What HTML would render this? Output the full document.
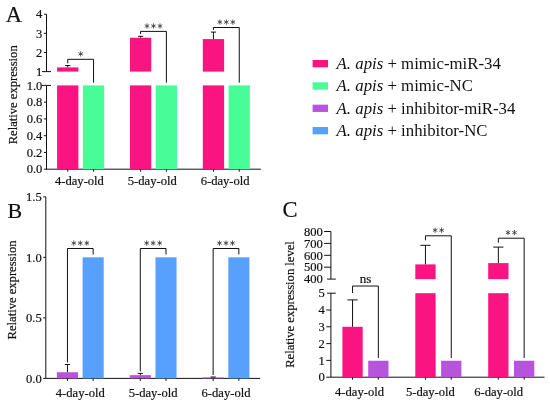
<!DOCTYPE html>
<html><head><meta charset="utf-8"><style>
html,body{margin:0;padding:0;background:#fff;}
svg{display:block;filter:blur(0.45px);}
text{font-family:"Liberation Serif",serif;fill:#111;stroke:#111;stroke-width:0.2px;}
</style></head><body>
<svg width="550" height="405" viewBox="0 0 550 405">
<rect width="550" height="405" fill="#fff"/>
<line x1="46.50" y1="14.20" x2="46.50" y2="71.60" stroke="#111" stroke-width="1.0"/>
<line x1="46.50" y1="85.40" x2="46.50" y2="169.70" stroke="#111" stroke-width="1.0"/>
<line x1="43.90" y1="14.20" x2="46.50" y2="14.20" stroke="#111" stroke-width="1.0"/>
<text x="42.40" y="18.46" font-size="12.6" text-anchor="end" >4</text>
<line x1="43.90" y1="33.33" x2="46.50" y2="33.33" stroke="#111" stroke-width="1.0"/>
<text x="42.40" y="37.59" font-size="12.6" text-anchor="end" >3</text>
<line x1="43.90" y1="52.47" x2="46.50" y2="52.47" stroke="#111" stroke-width="1.0"/>
<text x="42.40" y="56.73" font-size="12.6" text-anchor="end" >2</text>
<line x1="42.00" y1="71.60" x2="51.00" y2="71.60" stroke="#111" stroke-width="1.0"/>
<text x="42.40" y="75.86" font-size="12.6" text-anchor="end" >1</text>
<line x1="42.00" y1="85.40" x2="51.00" y2="85.40" stroke="#111" stroke-width="1.0"/>
<text x="42.40" y="89.66" font-size="12.6" text-anchor="end" >1.0</text>
<line x1="43.90" y1="102.16" x2="46.50" y2="102.16" stroke="#111" stroke-width="1.0"/>
<text x="42.40" y="106.42" font-size="12.6" text-anchor="end" >0.8</text>
<line x1="43.90" y1="118.92" x2="46.50" y2="118.92" stroke="#111" stroke-width="1.0"/>
<text x="42.40" y="123.18" font-size="12.6" text-anchor="end" >0.6</text>
<line x1="43.90" y1="135.68" x2="46.50" y2="135.68" stroke="#111" stroke-width="1.0"/>
<text x="42.40" y="139.94" font-size="12.6" text-anchor="end" >0.4</text>
<line x1="43.90" y1="152.44" x2="46.50" y2="152.44" stroke="#111" stroke-width="1.0"/>
<text x="42.40" y="156.70" font-size="12.6" text-anchor="end" >0.2</text>
<line x1="43.90" y1="169.20" x2="46.50" y2="169.20" stroke="#111" stroke-width="1.0"/>
<text x="42.40" y="173.46" font-size="12.6" text-anchor="end" >0.0</text>
<line x1="46.50" y1="169.20" x2="260.80" y2="169.20" stroke="#111" stroke-width="1.0"/>
<rect x="57.10" y="85.40" width="21.30" height="83.80" fill="#FA1482"/>
<rect x="82.90" y="85.40" width="21.30" height="83.80" fill="#48FD98"/>
<rect x="57.10" y="67.39" width="21.30" height="4.21" fill="#FA1482"/>
<line x1="67.75" y1="67.39" x2="67.75" y2="65.50" stroke="#111" stroke-width="1.0"/>
<line x1="65.15" y1="65.50" x2="70.35" y2="65.50" stroke="#111" stroke-width="1.0"/>
<polyline points="67.75,63.30 67.75,59.30 93.55,59.30 93.55,82.60" fill="none" stroke="#111" stroke-width="1.0" stroke-linejoin="miter"/>
<line x1="67.75" y1="169.20" x2="67.75" y2="171.70" stroke="#111" stroke-width="1.0"/>
<line x1="93.55" y1="169.20" x2="93.55" y2="171.70" stroke="#111" stroke-width="1.0"/>
<text x="79.45" y="185.30" font-size="12.6" text-anchor="middle" >4-day-old</text>
<path d="M80.65,51.30L80.65,56.50M78.40,52.60L82.90,55.20M82.90,52.60L78.40,55.20" stroke="#3c3c3c" stroke-width="0.85" fill="none" stroke-linecap="butt"/>
<rect x="129.95" y="85.40" width="21.30" height="83.80" fill="#FA1482"/>
<rect x="155.75" y="85.40" width="21.30" height="83.80" fill="#48FD98"/>
<rect x="129.95" y="37.73" width="21.30" height="33.87" fill="#FA1482"/>
<line x1="140.60" y1="37.73" x2="140.60" y2="36.30" stroke="#111" stroke-width="1.0"/>
<line x1="138.00" y1="36.30" x2="143.20" y2="36.30" stroke="#111" stroke-width="1.0"/>
<polyline points="140.60,34.10 140.60,31.40 166.40,31.40 166.40,82.60" fill="none" stroke="#111" stroke-width="1.0" stroke-linejoin="miter"/>
<line x1="140.60" y1="169.20" x2="140.60" y2="171.70" stroke="#111" stroke-width="1.0"/>
<line x1="166.40" y1="169.20" x2="166.40" y2="171.70" stroke="#111" stroke-width="1.0"/>
<text x="152.30" y="185.30" font-size="12.6" text-anchor="middle" >5-day-old</text>
<path d="M147.00,23.40L147.00,28.60M144.75,24.70L149.25,27.30M149.25,24.70L144.75,27.30" stroke="#3c3c3c" stroke-width="0.85" fill="none" stroke-linecap="butt"/>
<path d="M153.50,23.40L153.50,28.60M151.25,24.70L155.75,27.30M155.75,24.70L151.25,27.30" stroke="#3c3c3c" stroke-width="0.85" fill="none" stroke-linecap="butt"/>
<path d="M160.00,23.40L160.00,28.60M157.75,24.70L162.25,27.30M162.25,24.70L157.75,27.30" stroke="#3c3c3c" stroke-width="0.85" fill="none" stroke-linecap="butt"/>
<rect x="202.80" y="85.40" width="21.30" height="83.80" fill="#FA1482"/>
<rect x="228.60" y="85.40" width="21.30" height="83.80" fill="#48FD98"/>
<rect x="202.80" y="39.07" width="21.30" height="32.53" fill="#FA1482"/>
<line x1="213.45" y1="39.07" x2="213.45" y2="32.10" stroke="#111" stroke-width="1.0"/>
<line x1="210.85" y1="32.10" x2="216.05" y2="32.10" stroke="#111" stroke-width="1.0"/>
<polyline points="213.45,29.90 213.45,27.50 239.25,27.50 239.25,82.60" fill="none" stroke="#111" stroke-width="1.0" stroke-linejoin="miter"/>
<line x1="213.45" y1="169.20" x2="213.45" y2="171.70" stroke="#111" stroke-width="1.0"/>
<line x1="239.25" y1="169.20" x2="239.25" y2="171.70" stroke="#111" stroke-width="1.0"/>
<text x="225.15" y="185.30" font-size="12.6" text-anchor="middle" >6-day-old</text>
<path d="M219.85,19.50L219.85,24.70M217.60,20.80L222.10,23.40M222.10,20.80L217.60,23.40" stroke="#3c3c3c" stroke-width="0.85" fill="none" stroke-linecap="butt"/>
<path d="M226.35,19.50L226.35,24.70M224.10,20.80L228.60,23.40M228.60,20.80L224.10,23.40" stroke="#3c3c3c" stroke-width="0.85" fill="none" stroke-linecap="butt"/>
<path d="M232.85,19.50L232.85,24.70M230.60,20.80L235.10,23.40M235.10,20.80L230.60,23.40" stroke="#3c3c3c" stroke-width="0.85" fill="none" stroke-linecap="butt"/>
<text transform="translate(17.20,94.80) rotate(-90)" font-size="12.6" text-anchor="middle">Relative expression</text>
<text x="5.80" y="22.30" font-size="22.5" text-anchor="start" >A</text>
<line x1="45.80" y1="196.80" x2="45.80" y2="378.40" stroke="#111" stroke-width="1.0"/>
<line x1="43.20" y1="196.80" x2="45.80" y2="196.80" stroke="#111" stroke-width="1.0"/>
<text x="41.70" y="201.06" font-size="12.6" text-anchor="end" >1.5</text>
<line x1="43.20" y1="257.33" x2="45.80" y2="257.33" stroke="#111" stroke-width="1.0"/>
<text x="41.70" y="261.59" font-size="12.6" text-anchor="end" >1.0</text>
<line x1="43.20" y1="317.87" x2="45.80" y2="317.87" stroke="#111" stroke-width="1.0"/>
<text x="41.70" y="322.13" font-size="12.6" text-anchor="end" >0.5</text>
<line x1="43.20" y1="378.40" x2="45.80" y2="378.40" stroke="#111" stroke-width="1.0"/>
<text x="41.70" y="382.66" font-size="12.6" text-anchor="end" >0.0</text>
<line x1="45.80" y1="378.40" x2="260.20" y2="378.40" stroke="#111" stroke-width="1.0"/>
<rect x="56.90" y="372.23" width="21.10" height="6.17" fill="#B854DC"/>
<rect x="82.60" y="257.33" width="21.10" height="121.07" fill="#57A0FD"/>
<line x1="67.45" y1="372.23" x2="67.45" y2="364.50" stroke="#111" stroke-width="1.0"/>
<line x1="64.85" y1="364.50" x2="70.05" y2="364.50" stroke="#111" stroke-width="1.0"/>
<polyline points="67.45,362.50 67.45,248.50 93.15,248.50 93.15,254.53" fill="none" stroke="#111" stroke-width="1.0" stroke-linejoin="miter"/>
<line x1="67.45" y1="378.40" x2="67.45" y2="380.90" stroke="#111" stroke-width="1.0"/>
<line x1="93.15" y1="378.40" x2="93.15" y2="380.90" stroke="#111" stroke-width="1.0"/>
<text x="80.30" y="396.70" font-size="12.6" text-anchor="middle" >4-day-old</text>
<path d="M73.80,240.50L73.80,245.70M71.55,241.80L76.05,244.40M76.05,241.80L71.55,244.40" stroke="#3c3c3c" stroke-width="0.85" fill="none" stroke-linecap="butt"/>
<path d="M80.30,240.50L80.30,245.70M78.05,241.80L82.55,244.40M82.55,241.80L78.05,244.40" stroke="#3c3c3c" stroke-width="0.85" fill="none" stroke-linecap="butt"/>
<path d="M86.80,240.50L86.80,245.70M84.55,241.80L89.05,244.40M89.05,241.80L84.55,244.40" stroke="#3c3c3c" stroke-width="0.85" fill="none" stroke-linecap="butt"/>
<rect x="129.75" y="375.13" width="21.10" height="3.27" fill="#B854DC"/>
<rect x="155.45" y="257.33" width="21.10" height="121.07" fill="#57A0FD"/>
<line x1="140.30" y1="375.13" x2="140.30" y2="373.40" stroke="#111" stroke-width="1.0"/>
<line x1="137.70" y1="373.40" x2="142.90" y2="373.40" stroke="#111" stroke-width="1.0"/>
<polyline points="140.30,371.40 140.30,248.50 166.00,248.50 166.00,254.53" fill="none" stroke="#111" stroke-width="1.0" stroke-linejoin="miter"/>
<line x1="140.30" y1="378.40" x2="140.30" y2="380.90" stroke="#111" stroke-width="1.0"/>
<line x1="166.00" y1="378.40" x2="166.00" y2="380.90" stroke="#111" stroke-width="1.0"/>
<text x="153.15" y="396.70" font-size="12.6" text-anchor="middle" >5-day-old</text>
<path d="M146.65,240.50L146.65,245.70M144.40,241.80L148.90,244.40M148.90,241.80L144.40,244.40" stroke="#3c3c3c" stroke-width="0.85" fill="none" stroke-linecap="butt"/>
<path d="M153.15,240.50L153.15,245.70M150.90,241.80L155.40,244.40M155.40,241.80L150.90,244.40" stroke="#3c3c3c" stroke-width="0.85" fill="none" stroke-linecap="butt"/>
<path d="M159.65,240.50L159.65,245.70M157.40,241.80L161.90,244.40M161.90,241.80L157.40,244.40" stroke="#3c3c3c" stroke-width="0.85" fill="none" stroke-linecap="butt"/>
<rect x="202.60" y="377.43" width="21.10" height="0.97" fill="#B854DC"/>
<rect x="228.30" y="257.33" width="21.10" height="121.07" fill="#57A0FD"/>
<line x1="213.15" y1="377.43" x2="213.15" y2="377.00" stroke="#111" stroke-width="1.0"/>
<line x1="210.55" y1="377.00" x2="215.75" y2="377.00" stroke="#111" stroke-width="1.0"/>
<polyline points="213.15,375.00 213.15,248.50 238.85,248.50 238.85,254.53" fill="none" stroke="#111" stroke-width="1.0" stroke-linejoin="miter"/>
<line x1="213.15" y1="378.40" x2="213.15" y2="380.90" stroke="#111" stroke-width="1.0"/>
<line x1="238.85" y1="378.40" x2="238.85" y2="380.90" stroke="#111" stroke-width="1.0"/>
<text x="226.00" y="396.70" font-size="12.6" text-anchor="middle" >6-day-old</text>
<path d="M219.50,240.50L219.50,245.70M217.25,241.80L221.75,244.40M221.75,241.80L217.25,244.40" stroke="#3c3c3c" stroke-width="0.85" fill="none" stroke-linecap="butt"/>
<path d="M226.00,240.50L226.00,245.70M223.75,241.80L228.25,244.40M228.25,241.80L223.75,244.40" stroke="#3c3c3c" stroke-width="0.85" fill="none" stroke-linecap="butt"/>
<path d="M232.50,240.50L232.50,245.70M230.25,241.80L234.75,244.40M234.75,241.80L230.25,244.40" stroke="#3c3c3c" stroke-width="0.85" fill="none" stroke-linecap="butt"/>
<text transform="translate(15.80,289.90) rotate(-90)" font-size="12.6" text-anchor="middle">Relative expression</text>
<text x="7.50" y="218.30" font-size="22" text-anchor="start" >B</text>
<line x1="330.90" y1="231.50" x2="330.90" y2="279.10" stroke="#111" stroke-width="1.0"/>
<line x1="330.90" y1="293.20" x2="330.90" y2="377.20" stroke="#111" stroke-width="1.0"/>
<line x1="324.10" y1="231.50" x2="330.90" y2="231.50" stroke="#111" stroke-width="1.0"/>
<text x="322.80" y="235.76" font-size="12.6" text-anchor="end" >800</text>
<line x1="324.10" y1="243.40" x2="330.90" y2="243.40" stroke="#111" stroke-width="1.0"/>
<text x="322.80" y="247.66" font-size="12.6" text-anchor="end" >700</text>
<line x1="324.10" y1="255.30" x2="330.90" y2="255.30" stroke="#111" stroke-width="1.0"/>
<text x="322.80" y="259.56" font-size="12.6" text-anchor="end" >600</text>
<line x1="324.10" y1="267.20" x2="330.90" y2="267.20" stroke="#111" stroke-width="1.0"/>
<text x="322.80" y="271.46" font-size="12.6" text-anchor="end" >500</text>
<line x1="327.10" y1="279.10" x2="335.80" y2="279.10" stroke="#111" stroke-width="1.0"/>
<text x="322.80" y="283.36" font-size="12.6" text-anchor="end" >400</text>
<line x1="327.10" y1="293.20" x2="335.80" y2="293.20" stroke="#111" stroke-width="1.0"/>
<text x="324.80" y="297.46" font-size="12.6" text-anchor="end" >5</text>
<line x1="326.30" y1="310.00" x2="330.90" y2="310.00" stroke="#111" stroke-width="1.0"/>
<text x="324.80" y="314.26" font-size="12.6" text-anchor="end" >4</text>
<line x1="326.30" y1="326.80" x2="330.90" y2="326.80" stroke="#111" stroke-width="1.0"/>
<text x="324.80" y="331.06" font-size="12.6" text-anchor="end" >3</text>
<line x1="326.30" y1="343.60" x2="330.90" y2="343.60" stroke="#111" stroke-width="1.0"/>
<text x="324.80" y="347.86" font-size="12.6" text-anchor="end" >2</text>
<line x1="326.30" y1="360.40" x2="330.90" y2="360.40" stroke="#111" stroke-width="1.0"/>
<text x="324.80" y="364.66" font-size="12.6" text-anchor="end" >1</text>
<line x1="326.30" y1="377.20" x2="330.90" y2="377.20" stroke="#111" stroke-width="1.0"/>
<text x="324.80" y="381.46" font-size="12.6" text-anchor="end" >0</text>
<line x1="330.90" y1="377.20" x2="544.50" y2="377.20" stroke="#111" stroke-width="1.0"/>
<rect x="342.40" y="326.80" width="20.30" height="50.40" fill="#FA1482"/>
<rect x="368.20" y="360.74" width="20.30" height="16.46" fill="#B854DC"/>
<line x1="352.55" y1="326.80" x2="352.55" y2="299.90" stroke="#111" stroke-width="1.0"/>
<line x1="347.45" y1="299.90" x2="357.65" y2="299.90" stroke="#111" stroke-width="1.0"/>
<polyline points="352.55,293.00 352.55,286.00 378.35,286.00 378.35,357.94" fill="none" stroke="#111" stroke-width="1.0" stroke-linejoin="miter"/>
<line x1="352.55" y1="377.20" x2="352.55" y2="379.70" stroke="#111" stroke-width="1.0"/>
<line x1="378.35" y1="377.20" x2="378.35" y2="379.70" stroke="#111" stroke-width="1.0"/>
<text x="359.50" y="396.00" font-size="12.6" text-anchor="middle" >4-day-old</text>
<text x="365.45" y="282.60" font-size="13" text-anchor="middle" >ns</text>
<rect x="415.30" y="293.20" width="20.30" height="84.00" fill="#FA1482"/>
<rect x="415.30" y="264.40" width="20.30" height="14.70" fill="#FA1482"/>
<rect x="441.10" y="360.74" width="20.30" height="16.46" fill="#B854DC"/>
<line x1="425.45" y1="264.40" x2="425.45" y2="245.30" stroke="#111" stroke-width="1.0"/>
<line x1="420.35" y1="245.30" x2="430.55" y2="245.30" stroke="#111" stroke-width="1.0"/>
<polyline points="425.45,240.30 425.45,235.80 451.25,235.80 451.25,357.94" fill="none" stroke="#111" stroke-width="1.0" stroke-linejoin="miter"/>
<line x1="425.45" y1="377.20" x2="425.45" y2="379.70" stroke="#111" stroke-width="1.0"/>
<line x1="451.25" y1="377.20" x2="451.25" y2="379.70" stroke="#111" stroke-width="1.0"/>
<text x="430.40" y="396.00" font-size="12.6" text-anchor="middle" >5-day-old</text>
<path d="M435.10,227.60L435.10,232.80M432.85,228.90L437.35,231.50M437.35,228.90L432.85,231.50" stroke="#3c3c3c" stroke-width="0.85" fill="none" stroke-linecap="butt"/>
<path d="M441.60,227.60L441.60,232.80M439.35,228.90L443.85,231.50M443.85,228.90L439.35,231.50" stroke="#3c3c3c" stroke-width="0.85" fill="none" stroke-linecap="butt"/>
<rect x="488.20" y="293.20" width="20.30" height="84.00" fill="#FA1482"/>
<rect x="488.20" y="263.09" width="20.30" height="16.01" fill="#FA1482"/>
<rect x="514.00" y="360.74" width="20.30" height="16.46" fill="#B854DC"/>
<line x1="498.35" y1="263.09" x2="498.35" y2="247.10" stroke="#111" stroke-width="1.0"/>
<line x1="493.25" y1="247.10" x2="503.45" y2="247.10" stroke="#111" stroke-width="1.0"/>
<polyline points="498.35,242.70 498.35,238.20 524.15,238.20 524.15,357.94" fill="none" stroke="#111" stroke-width="1.0" stroke-linejoin="miter"/>
<line x1="498.35" y1="377.20" x2="498.35" y2="379.70" stroke="#111" stroke-width="1.0"/>
<line x1="524.15" y1="377.20" x2="524.15" y2="379.70" stroke="#111" stroke-width="1.0"/>
<text x="498.70" y="396.00" font-size="12.6" text-anchor="middle" >6-day-old</text>
<path d="M508.00,230.00L508.00,235.20M505.75,231.30L510.25,233.90M510.25,231.30L505.75,233.90" stroke="#3c3c3c" stroke-width="0.85" fill="none" stroke-linecap="butt"/>
<path d="M514.50,230.00L514.50,235.20M512.25,231.30L516.75,233.90M516.75,231.30L512.25,233.90" stroke="#3c3c3c" stroke-width="0.85" fill="none" stroke-linecap="butt"/>
<text transform="translate(294.00,304.50) rotate(-90)" font-size="12.6" text-anchor="middle">Relative expression level</text>
<text x="282.60" y="217.20" font-size="22.5" text-anchor="start" >C</text>
<rect x="312.60" y="60.00" width="15.40" height="7.30" fill="#FA1482"/>
<text x="336.6" y="69.10" font-size="16.8" style="stroke:none"><tspan font-style="italic">A. apis</tspan> + mimic-miR-34</text>
<rect x="312.60" y="82.33" width="15.40" height="7.30" fill="#48FD98"/>
<text x="336.6" y="91.43" font-size="16.8" style="stroke:none"><tspan font-style="italic">A. apis</tspan> + mimic-NC</text>
<rect x="312.60" y="104.66" width="15.40" height="7.30" fill="#B854DC"/>
<text x="336.6" y="113.76" font-size="16.8" style="stroke:none"><tspan font-style="italic">A. apis</tspan> + inhibitor-miR-34</text>
<rect x="312.60" y="126.99" width="15.40" height="7.30" fill="#57A0FD"/>
<text x="336.6" y="136.09" font-size="16.8" style="stroke:none"><tspan font-style="italic">A. apis</tspan> + inhibitor-NC</text>
</svg>
</body></html>
